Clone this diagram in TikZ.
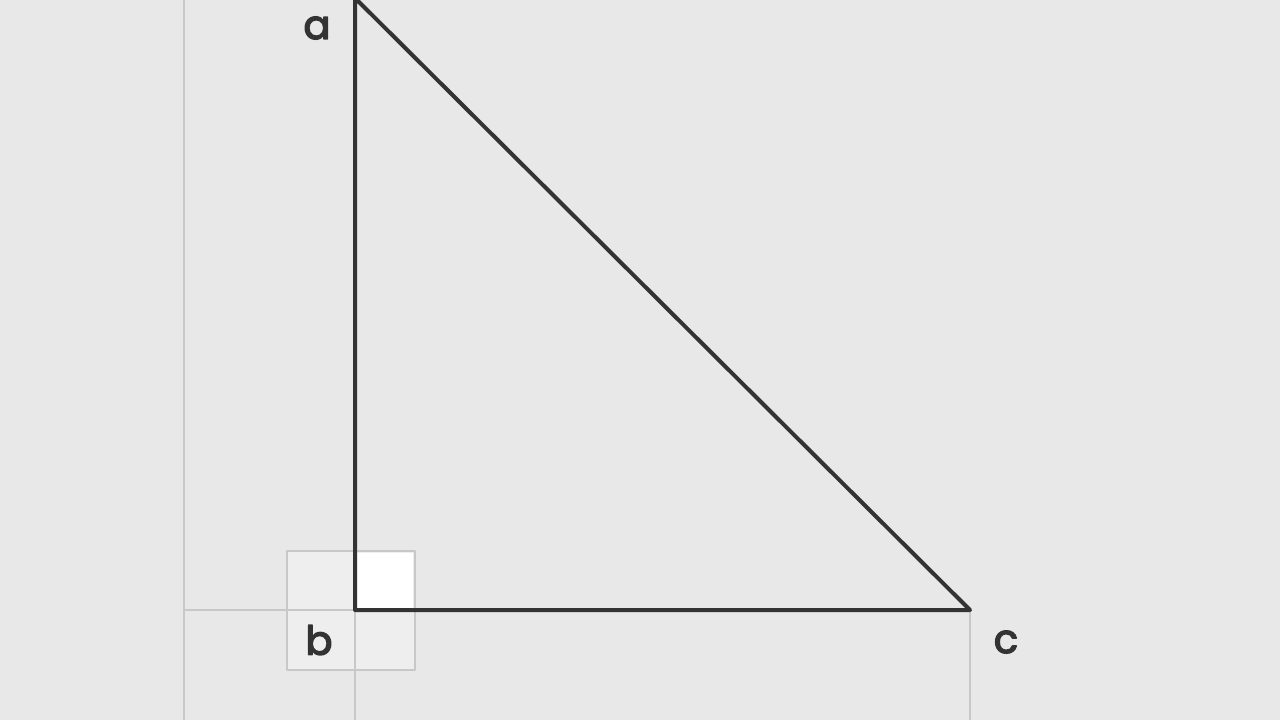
\documentclass[tikz,border=0pt]{standalone}
\usepackage{fontspec}
\setmainfont{Poppins}[BoldFont=*, BoldFeatures={FakeBold=3.5}]
\definecolor{bgc}{HTML}{E8E8E8}
\definecolor{edge}{HTML}{333333}
\definecolor{guide}{HTML}{C8C8C8}
\definecolor{boxc}{HTML}{EEEEEE}
\begin{document}
\begin{tikzpicture}[x=1pt, y=-1pt, line join=round, line cap=round,
    side/.style={draw=edge, line width=4pt},
    thin guide/.style={draw=guide, line width=1.2pt},
    lbl/.style={text=edge, font=\fontsize{40}{40}\selectfont\bfseries, inner sep=0pt}]
    \useasboundingbox (0,0) rectangle (1280,720);
    \fill[bgc] (0,0) rectangle (1280,720);
    \clip (0,0) rectangle (1280,720);
    \coordinate (a) at (355,-2);
    \coordinate (b) at (355,610);
    \coordinate (c) at (970,610);
    % guide lines
    \draw[thin guide] (184,0)--(184,720);
    \draw[thin guide] (184,610)--(b);
    \draw[thin guide] (b)--(355,720);
    \draw[thin guide] (c)--(970,720);
    % right angle box
    \draw[thin guide, fill=boxc] (287,551) rectangle (415,670);
    \fill[white] (356,553) rectangle (413,609);
    \draw[thin guide] (287,610)--(415,610);
    \draw[thin guide] (355,551)--(355,670);
    % triangle
    \draw[side] (a)--(b)--(c)--cycle;
    \node[lbl] (la) at (317,28) {a};
    \node[lbl] (lb) at (319,640) {b};
    \node[lbl] (lc) at (1006,642) {c};
\end{tikzpicture}
\end{document}
